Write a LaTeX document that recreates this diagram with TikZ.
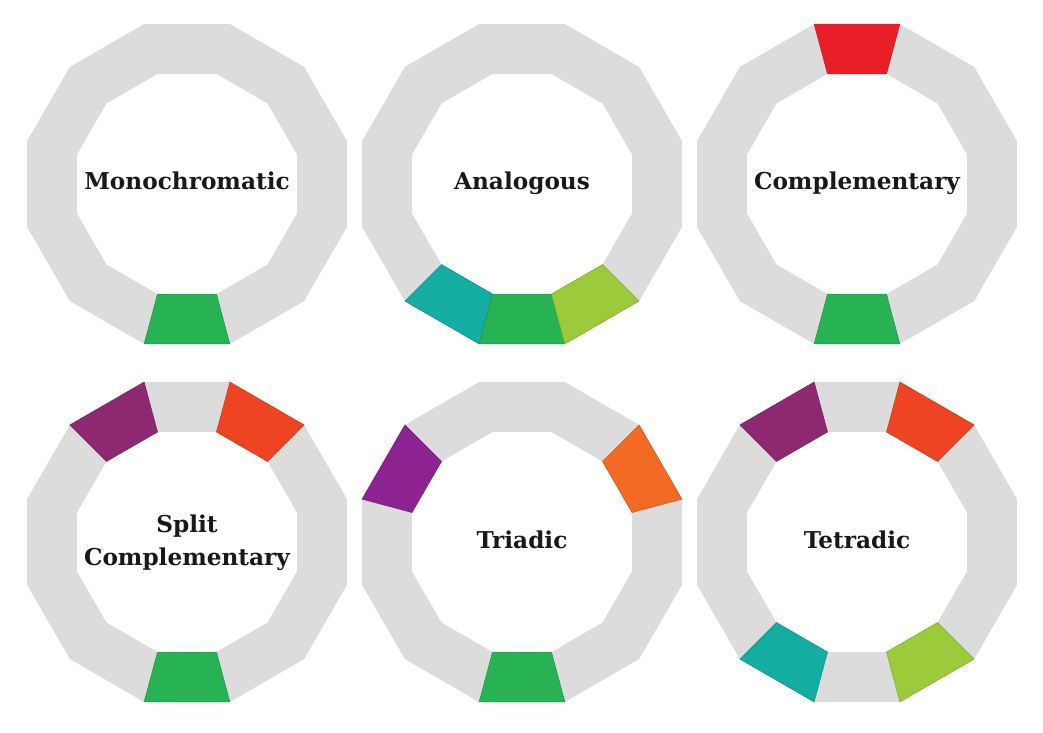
\documentclass[tikz,border=0pt]{standalone}
\usepackage{fontspec}
\setmainfont{DejaVu Serif}
\definecolor{ringgray}{HTML}{DCDCDC}
\definecolor{cgreen}{HTML}{27B254}
\definecolor{cteal}{HTML}{13ADA2}
\definecolor{clime}{HTML}{9BCA3B}
\definecolor{cred}{HTML}{E91F28}
\definecolor{cplum}{HTML}{8E2870}
\definecolor{cvermil}{HTML}{EE4424}
\definecolor{cviolet}{HTML}{8C2391}
\definecolor{corange}{HTML}{F26A24}
\tikzset{
  lbl/.style={font=\fontsize{23.2}{33}\selectfont\bfseries, text=black!90, inner sep=0pt, align=center}
}
\newcommand{\Rout}{165.6}
\newcommand{\Rin}{113.9}
% ring at centre #1
\newcommand{\myring}[1]{%
  \fill[ringgray, even odd rule, shift={#1}]
    (15:\Rout) \foreach \a in {45,75,...,345} {-- (\a:\Rout)} -- cycle
    (15:\Rin) \foreach \a in {45,75,...,345} {-- (\a:\Rin)} -- cycle;}
% segment at centre #1, angle #2, colour #3
\newcommand{\myseg}[3]{%
  \filldraw[fill=#3, draw=#3!85!black, line width=0.5pt, shift={#1}]
    ({#2-15}:\Rout) -- ({#2+15}:\Rout) -- ({#2+15}:\Rin) -- ({#2-15}:\Rin) -- cycle;}
\begin{document}
\begin{tikzpicture}[x=1pt,y=1pt]
\useasboundingbox (0,0) rectangle (1043,732);
\fill[white] (0,0) rectangle (1043,732);
% centres
\coordinate (c1) at (187,548);
\coordinate (c2) at (522,548);
\coordinate (c3) at (857,548);
\coordinate (c4) at (187,190);
\coordinate (c5) at (522,190);
\coordinate (c6) at (857,190);
\foreach \c in {c1,c2,c3,c4,c5,c6} {\myring{(\c)}}
% Monochromatic
\myseg{(c1)}{270}{cgreen}
% Analogous
\myseg{(c2)}{240}{cteal}
\myseg{(c2)}{270}{cgreen}
\myseg{(c2)}{300}{clime}
% Complementary
\myseg{(c3)}{90}{cred}
\myseg{(c3)}{270}{cgreen}
% Split complementary
\myseg{(c4)}{120}{cplum}
\myseg{(c4)}{60}{cvermil}
\myseg{(c4)}{270}{cgreen}
% Triadic
\myseg{(c5)}{150}{cviolet}
\myseg{(c5)}{30}{corange}
\myseg{(c5)}{270}{cgreen}
% Tetradic
\myseg{(c6)}{120}{cplum}
\myseg{(c6)}{60}{cvermil}
\myseg{(c6)}{240}{cteal}
\myseg{(c6)}{300}{clime}
% labels
\node[lbl, anchor=base] (t1) at ([yshift=-5.5pt]c1) {Monochromatic};
\node[lbl, anchor=base] (t2) at ([yshift=-5.5pt]c2) {Analogous};
\node[lbl, anchor=base] (t3) at ([yshift=-5.5pt]c3) {Complementary};
\node[lbl, anchor=base] (t4) at ([yshift=-23pt]c4) {Split\\Complementary};
\node[lbl, anchor=base] (t5) at ([yshift=-6pt]c5) {Triadic};
\node[lbl, anchor=base] (t6) at ([yshift=-6pt]c6) {Tetradic};
\end{tikzpicture}
\end{document}
